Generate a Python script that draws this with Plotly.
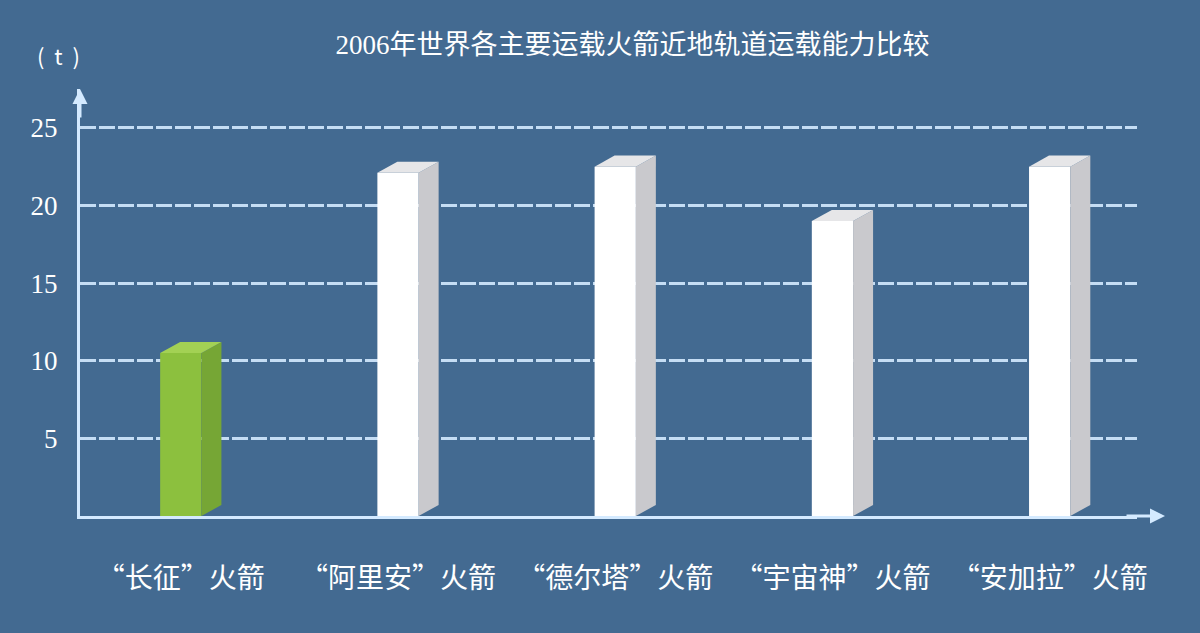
import plotly.graph_objects as go

# chart data
rockets = ["“长征”火箭", "“阿里安”火箭", "“德尔塔”火箭", "“宇宙神”火箭", "“安加拉”火箭"]
payload_t = [10.5, 22.1, 22.5, 19.0, 22.5]
y_ticks = [5, 10, 15, 20, 25]

# styling
BG = "#436a91"
LINE = "#d4eaff"
FONT = "Liberation Serif, Noto Sans CJK SC, serif"
CJK = "Noto Sans CJK SC, sans-serif"
BAR_W = 0.19      # front face width (x units)
DEPTH_X = 0.092   # fake 3D depth, x units
DEPTH_Y = 0.71    # fake 3D depth, t units

face_colors = {
    "green": ("#8cc03e", "#76a635", "#a3d154"),
    "white": ("#ffffff", "#c9c9cd", "#e6e6e8"),
}

fig = go.Figure()

xs = list(range(len(rockets)))
fronts = [face_colors["green"][0]] + [face_colors["white"][0]] * (len(rockets) - 1)

fig.add_trace(go.Bar(
    x=xs, y=payload_t, width=BAR_W,
    marker=dict(color=fronts, line=dict(width=0)),
    hoverinfo="skip", showlegend=False,
))

# side and top faces of each bar
for i, v in enumerate(payload_t):
    front, side, top = face_colors["green" if i == 0 else "white"]
    x0, x1 = i - BAR_W / 2, i + BAR_W / 2
    fig.add_trace(go.Scatter(
        x=[x1, x1 + DEPTH_X, x1 + DEPTH_X, x1, x1],
        y=[0, DEPTH_Y, v + DEPTH_Y, v, 0],
        fill="toself", fillcolor=side, mode="lines", line=dict(width=0),
        hoverinfo="skip", showlegend=False,
    ))
    fig.add_trace(go.Scatter(
        x=[x0, x1, x1 + DEPTH_X, x0 + DEPTH_X, x0],
        y=[v, v, v + DEPTH_Y, v + DEPTH_Y, v],
        fill="toself", fillcolor=top, mode="lines", line=dict(width=0),
        hoverinfo="skip", showlegend=False,
    ))

fig.update_layout(
    width=1200, height=633,
    paper_bgcolor=BG, plot_bgcolor=BG,
    margin=dict(l=80, r=63, t=89, b=117),
    font=dict(family=FONT, color="white", size=24),
    title=dict(
        text="2006年世界各主要运载火箭近地轨道运载能力比较",
        x=0.527, xanchor="center", y=0.929, yanchor="middle",
        font=dict(size=27, color="white", family=FONT),
    ),
    xaxis=dict(
        range=[-0.464, 4.402],
        tickvals=xs, ticktext=rockets,
        showgrid=False, zeroline=False,
        showline=True, linecolor=LINE, linewidth=3,
        ticks="", ticklabelstandoff=35,
        tickfont=dict(size=28, color="white", family=CJK),
    ),
    yaxis=dict(
        range=[0, 27.5], tickvals=y_ticks,
        showgrid=True, gridcolor="rgba(212,234,255,0.9)", gridwidth=3,
        griddash="16px,3px",
        zeroline=False, showline=True, linecolor=LINE, linewidth=3,
        ticks="", ticklabelstandoff=14,
        tickfont=dict(size=27, color="white", family=FONT),
    ),
)

# axis arrows
fig.add_annotation(x=0, y=1, xref="paper", yref="paper", text="", showarrow=True,
                   ax=0, ay=30, arrowhead=2, arrowsize=1, arrowwidth=3, arrowcolor=LINE)
fig.add_annotation(x=1.0265, y=0, xref="paper", yref="paper", text="", showarrow=True,
                   ax=-40, ay=0, arrowhead=2, arrowsize=1, arrowwidth=3, arrowcolor=LINE)

# unit label
fig.add_annotation(x=-0.0199, y=1.0796, xref="paper", yref="paper", text="(  t  )",
                   xanchor="center", yanchor="middle",
                   showarrow=False, font=dict(size=22, color="white", family=CJK))

fig.write_html("out.html", config={"displayModeBar": False},
               post_script="document.body.style.margin='0';")
